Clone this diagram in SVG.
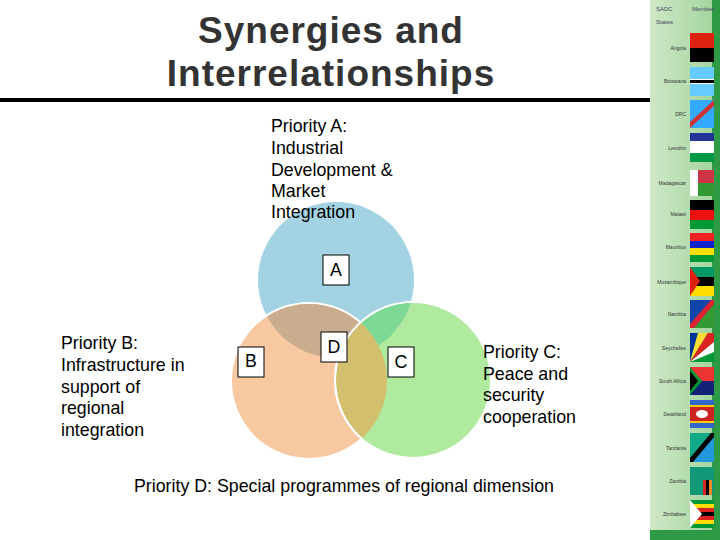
<svg xmlns="http://www.w3.org/2000/svg" width="720" height="540" viewBox="0 0 720 540">
<style>
.t{font-family:"Liberation Sans",Arial,sans-serif;font-size:17.8px;fill:#000}
.s{font-family:"Liberation Sans",Arial,sans-serif;font-size:5px;fill:#333;text-anchor:end}
.box{fill:#fff;stroke:#000;stroke-width:1}
.h{font-family:"Liberation Sans",Arial,sans-serif;font-weight:bold;font-size:37px;fill:#333;text-anchor:middle;letter-spacing:1px}
</style>
<defs>
<linearGradient id="side" x1="0" x2="1"><stop offset="0" stop-color="#cfe8c8"/><stop offset="1" stop-color="#9fd39a"/></linearGradient>
<clipPath id="cA"><circle cx="336" cy="280" r="78"/></clipPath>
<clipPath id="cB"><circle cx="309" cy="381" r="78"/></clipPath>
</defs>
<rect width="720" height="540" fill="#fff"/>
<g id="title">
<text class="h" x="331" y="43">Synergies and</text>
<text class="h" x="331" y="86">Interrelationships</text>
<rect x="0" y="98" width="660" height="4" fill="#000"/>
</g>
<g id="sidebar">
<rect x="650" y="0" width="70" height="540" fill="url(#side)"/>
<rect x="712" y="0" width="8" height="540" fill="#2f9a45"/>
<rect x="650" y="530" width="70" height="10" fill="#2f9a45"/>
<text x="656" y="11" style="font-family:'Liberation Sans',sans-serif;font-size:6px;fill:#446">SADC</text>
<text x="656" y="24" style="font-family:'Liberation Sans',sans-serif;font-size:6px;fill:#446">States</text>
<text x="692" y="11" style="font-family:'Liberation Sans',sans-serif;font-size:6px;fill:#446">Member</text>
<text class="s" x="686" y="50">Angola</text>
<rect x="690" y="33" width="24" height="15" fill="#d21"/><rect x="690" y="48" width="24" height="14" fill="#000"/>
<text class="s" x="686" y="83">Botswana</text>
<rect x="690" y="67" width="24" height="29" fill="#6cf"/><rect x="690" y="79" width="24" height="5" fill="#fff"/><rect x="690" y="80" width="24" height="3" fill="#000"/>
<text class="s" x="686" y="116">DRC</text>
<rect x="690" y="100" width="24" height="28" fill="#3af"/><path d="M690 128 L714 106 L714 100 L690 122Z" fill="#c33"/>
<text class="s" x="686" y="150">Lesotho</text>
<rect x="690" y="133" width="24" height="8" fill="#239"/><rect x="690" y="141" width="24" height="12" fill="#fff"/><rect x="690" y="153" width="24" height="9" fill="#094"/>
<text class="s" x="686" y="185">Madagascar</text>
<rect x="690" y="170" width="8" height="26" fill="#fff"/><rect x="698" y="170" width="16" height="13" fill="#c34"/><rect x="698" y="183" width="16" height="13" fill="#393"/>
<text class="s" x="686" y="216">Malawi</text>
<rect x="690" y="200" width="24" height="10" fill="#000"/><rect x="690" y="210" width="24" height="10" fill="#e11"/><rect x="690" y="220" width="24" height="9" fill="#093"/>
<text class="s" x="686" y="249">Mauritius</text>
<rect x="690" y="233" width="24" height="8" fill="#e22"/><rect x="690" y="241" width="24" height="7" fill="#12c"/><rect x="690" y="248" width="24" height="7" fill="#fd0"/><rect x="690" y="255" width="24" height="7" fill="#093"/>
<text class="s" x="686" y="284">Mozambique</text>
<rect x="690" y="267" width="24" height="10" fill="#096"/><rect x="690" y="277" width="24" height="9" fill="#000"/><rect x="690" y="286" width="24" height="10" fill="#fd0"/><path d="M690 267 L700 281 L690 296Z" fill="#d21"/>
<text class="s" x="686" y="316">Namibia</text>
<rect x="690" y="300" width="24" height="28" fill="#393"/><path d="M690 300 L714 300 L690 328Z" fill="#14a"/><path d="M690 324 L711 300 L714 300 L714 304 L694 328 L690 328Z" fill="#d23"/>
<text class="s" x="686" y="350">Seychelles</text>
<rect x="690" y="333" width="24" height="29" fill="#093"/><path d="M690 362 L690 333 L698 333Z" fill="#039"/><path d="M690 362 L698 333 L708 333Z" fill="#fd3"/><path d="M690 362 L708 333 L714 333 L714 342Z" fill="#d22"/><path d="M690 362 L714 342 L714 352Z" fill="#fff"/>
<text class="s" x="686" y="383">South Africa</text>
<rect x="690" y="367" width="24" height="14" fill="#e33"/><rect x="690" y="381" width="24" height="14" fill="#127"/><path d="M690 367 L702 381 L690 395Z" fill="#093"/><path d="M690 371 L698 381 L690 391Z" fill="#000"/>
<text class="s" x="686" y="416">Swaziland</text>
<rect x="690" y="400" width="24" height="28" fill="#36c"/><rect x="690" y="405" width="24" height="18" fill="#fc0"/><rect x="690" y="407" width="24" height="14" fill="#c22"/><ellipse cx="702" cy="414" rx="6" ry="4" fill="#fff"/>
<text class="s" x="686" y="450">Tanzania</text>
<rect x="690" y="433" width="24" height="29" fill="#1a8"/><path d="M690 462 L714 433 L714 462Z" fill="#29d"/><path d="M690 458 L711 433 L714 433 L714 437 L693 462 L690 462Z" fill="#000"/>
<text class="s" x="686" y="483">Zambia</text>
<rect x="690" y="467" width="24" height="28" fill="#197"/><rect x="703" y="480" width="3" height="15" fill="#d22"/><rect x="706" y="480" width="3" height="15" fill="#000"/><rect x="709" y="480" width="3" height="15" fill="#e82"/>
<text class="s" x="686" y="516">Zimbabwe</text>
<rect x="690" y="500" width="24" height="28" fill="#093"/><rect x="690" y="504" width="24" height="4" fill="#fd0"/><rect x="690" y="508" width="24" height="4" fill="#d22"/><rect x="690" y="512" width="24" height="4" fill="#000"/><rect x="690" y="516" width="24" height="4" fill="#d22"/><rect x="690" y="520" width="24" height="4" fill="#fd0"/><path d="M690 500 L702 514 L690 528Z" fill="#fff"/>
</g>
<g id="venn">
<circle cx="336" cy="280" r="78" fill="#a3d2e2"/>
<circle cx="309" cy="381" r="78" fill="#f8c8a0" stroke="#fff" stroke-width="2"/>
<circle cx="413" cy="380" r="78" fill="#afea9f" stroke="#fff" stroke-width="2"/>
<circle cx="309" cy="381" r="77" fill="#c9ad8e" clip-path="url(#cA)"/>
<circle cx="413" cy="380" r="77" fill="#7ed996" clip-path="url(#cA)"/>
<circle cx="413" cy="380" r="77" fill="#d3c06e" clip-path="url(#cB)"/>
<circle cx="413" cy="380" r="78" fill="none" stroke="#fff" stroke-width="2" clip-path="url(#cB)"/>
</g>
<g id="nodeA"><rect class="box" x="323" y="255" width="26" height="30"/><text class="t" x="336" y="276" text-anchor="middle">A</text></g>
<g id="nodeB"><rect class="box" x="238" y="347" width="26" height="30"/><text class="t" x="251" y="367" text-anchor="middle">B</text></g>
<g id="nodeC"><rect class="box" x="388" y="347" width="26" height="30"/><text class="t" x="401" y="368" text-anchor="middle">C</text></g>
<g id="nodeD"><rect class="box" x="321" y="332" width="26" height="30"/><text class="t" x="334" y="353" text-anchor="middle">D</text></g>
<g id="labelA"><text class="t" x="271" y="132">Priority A:</text><text class="t" x="271" y="154">Industrial</text><text class="t" x="271" y="176">Development &amp;</text><text class="t" x="271" y="197">Market</text><text class="t" x="271" y="218">Integration</text></g>
<g id="labelB"><text class="t" x="61" y="349">Priority B:</text><text class="t" x="61" y="371">Infrastructure in</text><text class="t" x="61" y="393">support of</text><text class="t" x="61" y="414">regional</text><text class="t" x="61" y="436">integration</text></g>
<g id="labelC"><text class="t" x="483" y="358">Priority C:</text><text class="t" x="483" y="380">Peace and</text><text class="t" x="483" y="401">security</text><text class="t" x="483" y="423">cooperation</text></g>
<g id="labelD"><text class="t" x="134" y="492">Priority D: Special programmes of regional dimension</text></g>
<g id="connectors"/>
</svg>
